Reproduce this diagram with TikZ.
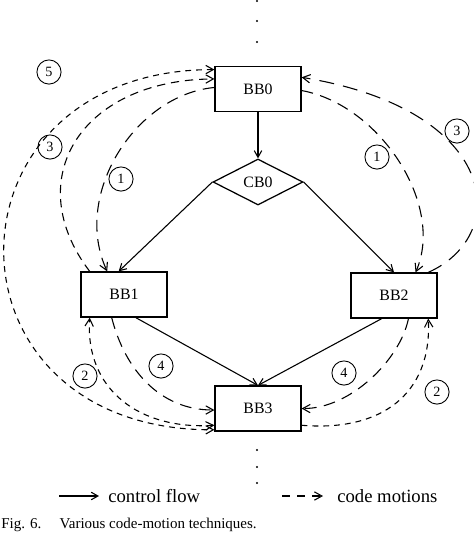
\documentclass[tikz,border=0pt]{standalone}
\usepackage{fontspec}
\setmainfont{Liberation Serif}
\usetikzlibrary{shapes.geometric,arrows.meta,positioning}

\begin{document}
\begin{tikzpicture}[
    x=0.6pt, y=-0.6pt,
    block/.style={rectangle, draw, line width=0.75pt, minimum width=51.6pt, minimum height=27pt, font=\fontsize{9.5}{11}\selectfont},
    cond/.style={diamond, draw, line width=0.75pt, aspect=2, inner sep=1pt, minimum width=54pt, minimum height=27.6pt, font=\fontsize{9.5}{11}\selectfont},
    num/.style={circle, draw, line width=0.55pt, minimum size=14.5pt, inner sep=0pt, font=\fontsize{8.5}{10}\selectfont},
    flow/.style={-{Straight Barb[length=4pt,width=4.5pt]}, line width=0.65pt},
    motion/.style={-{Straight Barb[length=4.5pt,width=5pt]}, line width=0.65pt},
    bimotion/.style={{Straight Barb[length=4.5pt,width=5pt]}-{Straight Barb[length=4.5pt,width=5pt]}, line width=0.65pt},
    shortdash/.style={dash pattern=on 3.5pt off 3pt},
    middash/.style={dash pattern=on 5pt off 3.5pt},
    longdash/.style={dash pattern=on 7pt off 4.5pt},
    verylongdash/.style={dash pattern=on 9pt off 5.5pt},
    ellip/.style={circle, fill, inner sep=0pt, minimum size=1.3pt},
    keytext/.style={font=\fontsize{11.2}{13}\selectfont, anchor=west, inner sep=0pt}
]
\useasboundingbox (0,0) rectangle (474,542);

% Basic blocks
\node[block] (bb0) at (258,89) {BB0};
\node[cond] (cb0) at (258,182) {CB0};
\node[block] (bb1) at (124,294.5) {BB1};
\node[block] (bb2) at (394,295.5) {BB2};
\node[block] (bb3) at (258,408.5) {BB3};

% Dots above and below
\foreach \y in {1,21,42} \node[ellip] at (257,\y) {};
\foreach \y in {450,467,483} \node[ellip] at (257,\y) {};

% Control flow
\draw[flow] (bb0.south) -- (cb0.north);
\draw[flow] (cb0.west) -- (bb1.103);
\draw[flow] (cb0.east) -- (bb2.north);
\draw[flow] (bb1.-63) -- (bb3.north);
\draw[flow] (bb2.-118) -- (bb3.north);

% Code motions, left side
\draw[bimotion, shortdash] (bb0.156) .. controls (-65,70) and (-67,431) .. (bb3.206);
\draw[motion, middash] (bb1.146) .. controls (20,180) and (80,80) .. (bb0.167);
\draw[motion, longdash] (bb0.178) .. controls (135,95) and (72,195) .. (bb1.126);
\draw[motion, longdash] (bb1.242) .. controls (125,370) and (160,410) .. (bb3.182);
\draw[bimotion, shortdash] (bb3.201) .. controls (140,430) and (85,390) .. (bb1.214);

% Code motions, right side
\draw[motion, longdash] (bb0.358) .. controls (380,105) and (445,205) .. (bb2.47);
\draw[motion, verylongdash] (bb2.34) .. controls (512,235) and (500,110) .. (bb0.15);
\draw[motion, longdash] (bb2.302) .. controls (400,360) and (350,409) .. (bb3.0);
\draw[motion, shortdash] (bb3.339) .. controls (380,432) and (432,395) .. (bb2.326);

% Numbers
\node[num] (n5) at (49,72) {5};
\node[num] (n3l) at (50,147) {3};
\node[num] (n1l) at (121,179) {1};
\node[num] (n1r) at (377,157) {1};
\node[num] (n3r) at (457,131) {3};
\node[num] (n4l) at (161,366) {4};
\node[num] (n2l) at (85,376) {2};
\node[num] (n4r) at (344,373) {4};
\node[num] (n2r) at (437,392) {2};

% Legend
\coordinate (cf1) at (59,496);
\coordinate (cf2) at (99,496);
\draw[flow] (cf1) -- (cf2);
\node[keytext] (cft) at (108,496) {control flow};
\coordinate (cm1) at (282,496);
\coordinate (cm2) at (323,496);
\draw[motion, dash pattern=on 5pt off 4pt] (cm1) -- (cm2);
\node[keytext] (cmt) at (337,496) {code motions};

% Caption
\node[anchor=west, inner sep=0pt, font=\fontsize{9}{11}\selectfont] (cap) at (1,525) {Fig. 6.\hspace{11pt}Various code-motion techniques.};

\end{tikzpicture}
\end{document}
